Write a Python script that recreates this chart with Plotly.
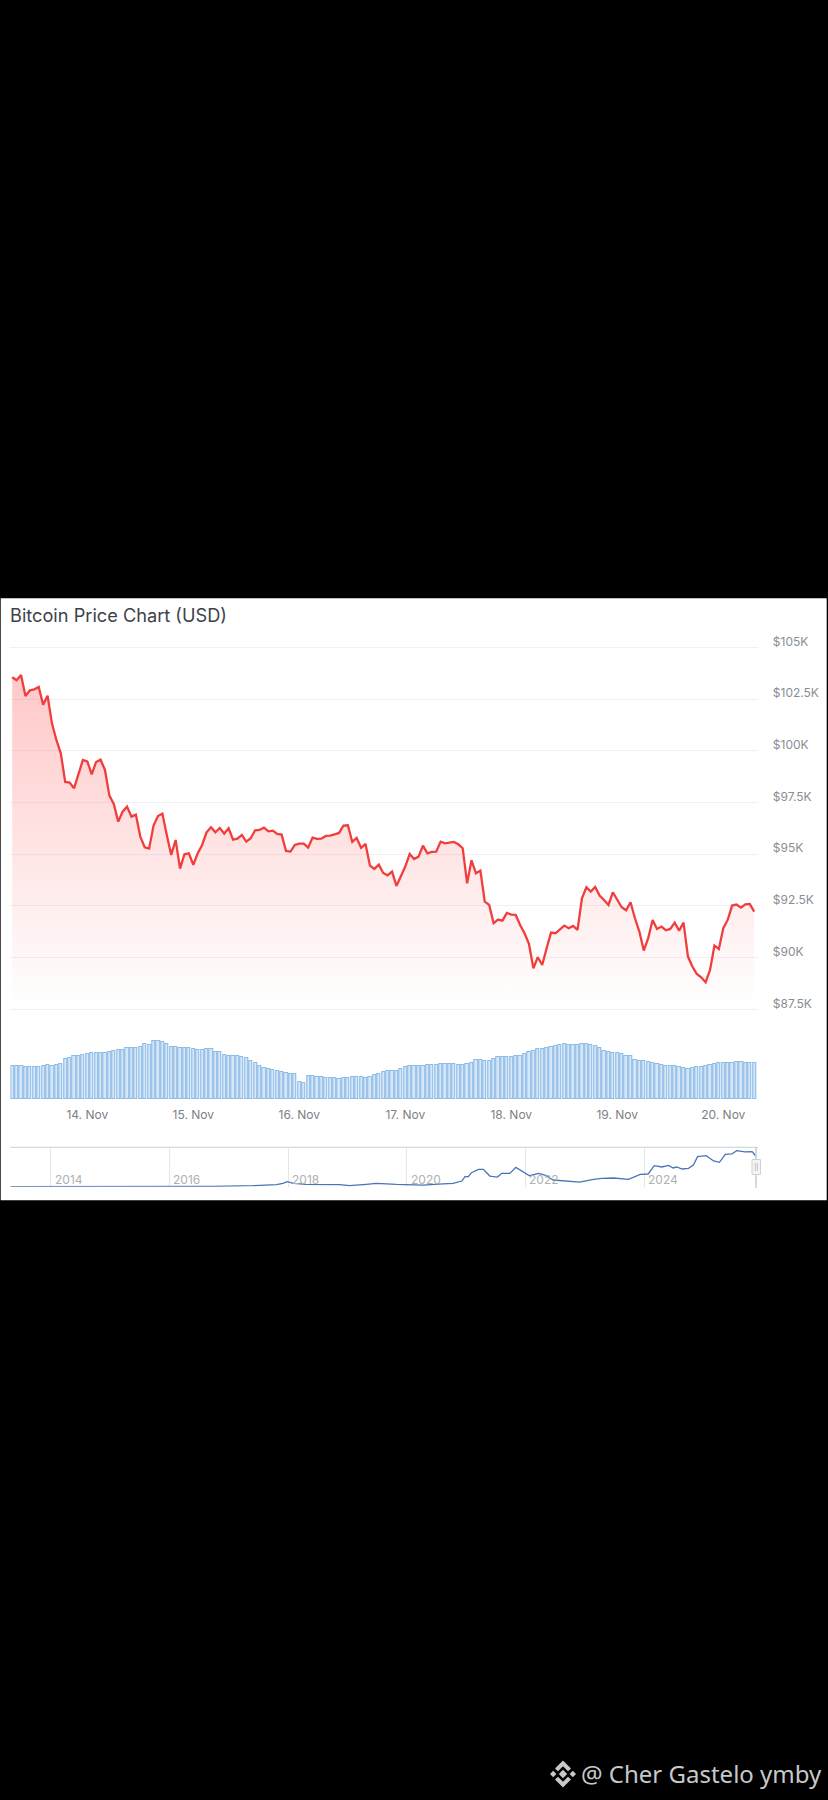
import pandas as pd
import plotly.graph_objects as go

W, H = 828, 1800

# ---- data ----
price_usd = [
103550,103405,103663,102648,102922,102970,103083,102229,102664,101327,100521,99877,98492,98459,98185,98830,
99555,99490,98862,99458,99571,99072,97831,97428,96574,97058,97299,96816,96913,95850,95334,95270,
96381,96848,96961,95930,94963,95688,94303,94996,95044,94480,95044,95447,96059,96301,96059,96268,
95995,96252,95705,95753,95930,95608,95769,96156,96172,96284,96107,96139,95978,95946,95157,95125,
95447,95511,95511,95318,95801,95737,95753,95882,95898,95962,96027,96381,96397,95592,95785,95302,
95495,94448,94287,94496,94094,93981,94158,93465,93916,94400,95012,94770,94883,95415,95044,95108,
95125,95608,95527,95576,95592,95479,95286,93594,94706,94077,94206,92708,92547,91661,91838,91790,
92160,92080,92064,91580,91178,90662,89486,90018,89647,90453,91210,91178,91371,91548,91419,91532,
91339,92869,93401,93191,93417,92998,92789,92547,93159,92821,92434,92289,92676,91903,91258,90340,
90936,91822,91387,91500,91323,91387,91693,91306,91693,90050,89567,89212,89051,88809,89406,90582,
90420,91419,91822,92515,92563,92418,92579,92595,92225]

volume_values = [
100,100,100,96,96,96,96,99,103,99,102,106,120,124,130,130,133,136,140,140,140,140,142,145,148,148,
154,154,154,157,166,164,175,176,173,166,158,157,154,154,154,151,147,148,150,150,142,142,133,130,130,130,
127,124,114,110,100,93,90,88,84,81,79,75,75,51,48,70,70,67,66,63,63,63,60,63,63,66,66,66,63,66,72,75,82,
84,84,84,90,97,100,100,100,100,103,103,103,106,106,106,106,102,102,105,110,118,118,115,116,120,127,127,127,127,
130,130,136,142,145,151,151,154,157,160,164,166,163,163,163,166,166,163,160,154,144,141,140,139,136,130,130,
118,115,115,112,109,106,103,100,100,100,97,93,90,93,96,97,100,103,106,109,109,109,109,111,111,109,109,109]

price_ticks = [87500, 90000, 92500, 95000, 97500, 100000, 102500, 105000]
price_tick_labels = ["$87.5K", "$90K", "$92.5K", "$95K", "$97.5K", "$100K", "$102.5K", "$105K"]
day_ticks = ["2025-11-14", "2025-11-15", "2025-11-16", "2025-11-17", "2025-11-18", "2025-11-19", "2025-11-20"]
day_tick_labels = ["14. Nov", "15. Nov", "16. Nov", "17. Nov", "18. Nov", "19. Nov", "20. Nov"]

nav_dates = [
"2013-04-28","2013-11-15","2015-05-22","2016-09-27","2017-05-30","2017-10-22","2017-12-01","2017-12-26",
"2018-02-03","2018-04-23","2018-11-14","2019-01-15","2019-04-27","2019-06-28","2019-10-30","2020-03-21",
"2020-04-12","2020-07-13","2020-10-13","2020-12-06","2020-12-25","2021-01-15","2021-02-03","2021-03-18",
"2021-04-17","2021-05-27","2021-07-13","2021-08-08","2021-09-27","2021-11-03","2021-12-09","2022-01-26",
"2022-03-23","2022-05-01","2022-06-21","2022-10-22","2022-12-01","2023-02-24","2023-04-17","2023-06-28",
"2023-09-27","2023-12-09","2024-01-26","2024-03-04","2024-04-20","2024-05-30","2024-06-28","2024-07-20",
"2024-08-22","2024-10-01","2024-10-31","2024-11-25","2025-01-18","2025-03-04","2025-04-09","2025-05-15",
"2025-06-25","2025-07-24","2025-08-26","2025-09-13","2025-10-27","2025-11-18"]
nav_values = [
0,0,0,1,3,6,10,15,10,7,6,3,7,10,7,5,5,8,10,17,30,30,42,52,52,32,29,40,40,58,48,33,40,35,20,17,14,22,25,26,
22,37,38,63,59,64,56,59,53,55,65,90,93,77,73,97,98,108,106,104,105,92]
nav_years = ["2014", "2016", "2018", "2020", "2022", "2024"]

times = pd.date_range("2025-11-13 07:00", periods=len(price_usd), freq="h")

# ---- layout helpers (pixels in the 828x1800 page) ----
def fx(px): return px / W
def fy(py): return 1 - py / H

PLOT_L, PLOT_R = 10.3, 757.8
x_main_range = ["2025-11-13 06:34", "2025-11-20 07:49"]
x_nav_range = ["2013-04-28", "2025-12-01"]

fig = go.Figure()

fig.add_trace(go.Scatter(
    x=times, y=price_usd, mode="lines", xaxis="x", yaxis="y",
    line=dict(color="#f23d3d", width=2.3),
    fill="tozeroy",
    fillgradient=dict(type="vertical", start=87500, stop=103700,
                      colorscale=[[0, "rgba(255,70,70,0)"], [0.12, "rgba(255,70,70,0.035)"],
                                  [1, "rgba(255,70,70,0.30)"]]),
    hoverinfo="skip", showlegend=False))

fig.add_trace(go.Bar(
    x=times, y=volume_values, xaxis="x", yaxis="y2",
    width=3600000 * 0.72, offset=-3600000 * 0.30,
    marker=dict(color="rgba(178,210,238,0.55)", line=dict(color="#8cbbe8", width=1.1)),
    hoverinfo="skip", showlegend=False))

fig.add_trace(go.Scatter(
    x=nav_dates, y=nav_values, mode="lines", xaxis="x2", yaxis="y3",
    line=dict(color="#4a74b4", width=1.3),
    hoverinfo="skip", showlegend=False))

def rect(x0, y0, x1, y1, fill, line=None, lw=0, layer="below"):
    return dict(type="rect", xref="paper", yref="paper",
                x0=fx(x0), x1=fx(x1), y0=fy(y0), y1=fy(y1),
                fillcolor=fill, line=dict(color=line or fill, width=lw), layer=layer)

def poly(points, fill):
    path = "M " + " L ".join(f"{fx(a):.5f} {fy(b):.5f}" for a, b in points) + " Z"
    return dict(type="path", xref="paper", yref="paper", path=path,
                fillcolor=fill, line=dict(width=0), layer="above")

shapes = [
    rect(1, 598.3, 826.7, 1200.3, "#ffffff"),
    rect(0, 598.3, 1, 1200.3, "#4a4a4a"),
    # navigator frame and handle
    dict(type="line", xref="paper", yref="paper", x0=fx(PLOT_L), x1=fx(PLOT_R), y0=fy(1147.3), y1=fy(1147.3),
         line=dict(color="#cfdbe3", width=1.2), layer="above"),
    dict(type="line", xref="paper", yref="paper", x0=fx(756), x1=fx(756), y0=fy(1147.3), y1=fy(1188),
         line=dict(color="#c4c9cc", width=1.4), layer="above"),
    rect(752, 1159.5, 760.5, 1174.5, "#f4f4f4", "#d0d0d0", 1, "above"),
    dict(type="line", xref="paper", yref="paper", x0=fx(755.3), x1=fx(755.3), y0=fy(1163), y1=fy(1171),
         line=dict(color="#c4c4c4", width=1), layer="above"),
    dict(type="line", xref="paper", yref="paper", x0=fx(757.3), x1=fx(757.3), y0=fy(1163), y1=fy(1171),
         line=dict(color="#c4c4c4", width=1), layer="above"),
]

# watermark logo
cx, cy = 563.0, 1774.0
logo = "#c9c9c9"
shapes += [
    poly([(cx, cy - 4.2), (cx + 4.2, cy), (cx, cy + 4.2), (cx - 4.2, cy)], logo),
    poly([(cx - 13, cy), (cx - 9.8, cy - 3.2), (cx - 6.6, cy), (cx - 9.8, cy + 3.2)], logo),
    poly([(cx + 13, cy), (cx + 9.8, cy - 3.2), (cx + 6.6, cy), (cx + 9.8, cy + 3.2)], logo),
    poly([(cx, cy - 13.5), (cx + 8, cy - 5.5), (cx + 5, cy - 2.8), (cx, cy - 7.8), (cx - 5, cy - 2.8), (cx - 8, cy - 5.5)], logo),
    poly([(cx, cy + 13.5), (cx + 8, cy + 5.5), (cx + 5, cy + 2.8), (cx, cy + 7.8), (cx - 5, cy + 2.8), (cx - 8, cy + 5.5)], logo),
]

annotations = [
    dict(text="Bitcoin Price Chart (USD)", xref="paper", yref="paper", x=fx(7.8), y=fy(615.5),
         xanchor="left", yanchor="middle", showarrow=False,
         font=dict(family="Inter", size=18.2, color="#3d4249")),
    dict(text="@ Cher Gastelo ymby", xref="paper", yref="paper", x=fx(578.5), y=fy(1773),
         xanchor="left", yanchor="middle", showarrow=False,
         font=dict(family="Noto Sans", size=24, color="#c9c9c9")),
]
for yr in nav_years:
    annotations.append(dict(text=yr, xref="x2", yref="paper", x=f"{yr}-01-01", y=fy(1179),
                            xanchor="left", yanchor="middle", xshift=2, showarrow=False,
                            font=dict(family="Inter", size=12, color="#aeb1b5")))

fig.update_layout(
    width=W, height=H, autosize=False,
    margin=dict(l=0, r=0, t=0, b=0, pad=0, autoexpand=False),
    paper_bgcolor="#000000", plot_bgcolor="rgba(0,0,0,0)",
    showlegend=False, bargap=0,
    shapes=shapes, annotations=annotations,
    xaxis=dict(domain=[fx(PLOT_L), fx(PLOT_R)], anchor="y2", range=x_main_range, type="date",
               tickvals=day_ticks, ticktext=day_tick_labels, ticks="", showgrid=False, zeroline=False,
               showline=False, ticklabelstandoff=7, automargin=False,
               tickfont=dict(family="Inter", size=12, color="#7d8085")),
    yaxis=dict(domain=[fy(1011.33), fy(645.33)], anchor="x", side="right", range=[87403.4, 105096.6],
               tickvals=price_ticks, ticktext=price_tick_labels, ticks="",
               gridcolor="#f0f1f2", gridwidth=1, zeroline=False, showline=False,
               ticklabelstandoff=14, ticklabelshift=-6, automargin=False,
               tickfont=dict(family="Inter", size=12, color="#898d94")),
    yaxis2=dict(domain=[fy(1099.3), fy(1040)], anchor="x", range=[0, 178],
                visible=False, automargin=False),
    xaxis2=dict(domain=[fx(PLOT_L), fx(PLOT_R)], anchor="y3", range=x_nav_range, type="date",
                tickvals=[f"{y}-01-01" for y in nav_years], showticklabels=False, ticks="", automargin=False,
                showgrid=True, gridcolor="#e4e6e8", gridwidth=1, zeroline=False, showline=False),
    yaxis3=dict(domain=[fy(1186.7), fy(1147.3)], anchor="x2", range=[0, 118], visible=False, automargin=False),
)

fig.write_html("out.html", config={"displayModeBar": False},
               post_script="document.body.style.margin='0';document.body.style.background='#000';")
